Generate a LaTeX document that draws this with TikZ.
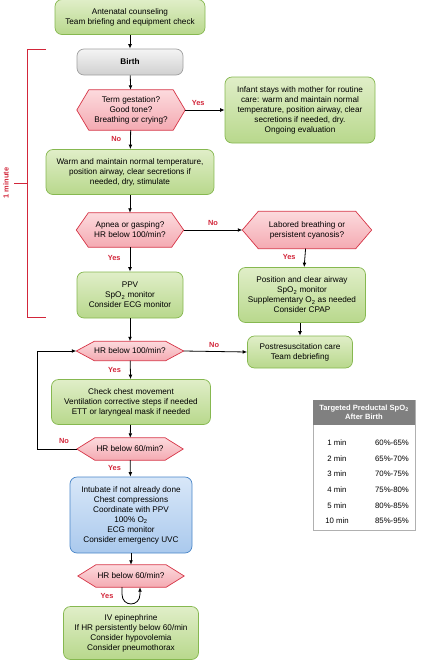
\documentclass[tikz,border=0pt]{standalone}
\usepackage{fontspec}
\setmainfont{Liberation Sans}
\usetikzlibrary{arrows.meta,backgrounds}
\definecolor{gtop}{RGB}{224,238,200}
\definecolor{gbot}{RGB}{184,216,140}
\definecolor{gborder}{RGB}{134,184,80}
\definecolor{ytop}{RGB}{244,244,244}
\definecolor{ybot}{RGB}{208,208,208}
\definecolor{yborder}{RGB}{160,160,160}
\definecolor{rtop}{RGB}{252,218,221}
\definecolor{rbot}{RGB}{244,170,178}
\definecolor{rborder}{RGB}{214,52,70}
\definecolor{btop}{RGB}{216,231,248}
\definecolor{bbot}{RGB}{170,201,237}
\definecolor{bborder}{RGB}{74,134,200}
\definecolor{labred}{RGB}{210,38,58}
\definecolor{tgray}{RGB}{128,128,128}
\definecolor{tborder}{RGB}{176,176,176}
\begin{document}
\begin{tikzpicture}[x=1pt,y=-1pt,
  base/.style={font=\fontsize{8.2}{10}\selectfont, align=center, inner sep=1pt},
  gbox/.style={base, rectangle, rounded corners=7pt, draw=gborder, line width=0.7pt, top color=gtop, bottom color=gbot},
  ybox/.style={base, rectangle, rounded corners=7pt, draw=yborder, line width=0.7pt, top color=ytop, bottom color=ybot},
  bbox/.style={base, rectangle, rounded corners=7pt, draw=bborder, line width=0.7pt, top color=btop, bottom color=bbot},
  hexnode/.style={base, rectangle, inner sep=0pt},
  hexpath/.style={draw=rborder, line width=0.7pt, top color=rtop, bottom color=rbot},
  arr/.style={-{Latex[length=4.5pt,width=3.8pt]}, line width=0.8pt},
  lab/.style={font=\fontsize{7.4}{8}\selectfont\bfseries, text=labred, inner sep=0pt},
  brk/.style={draw=labred, line width=0.8pt},
  tcell/.style={font=\fontsize{7.8}{9}\selectfont, inner sep=0pt},
]
\useasboundingbox (0,0) rectangle (427,662);

% nodes
\node[gbox, minimum width=150pt, minimum height=35pt] (ante) at (130,17) {Antenatal counseling\\Team briefing and equipment check};
\node[ybox, minimum width=106pt, minimum height=26pt, font=\fontsize{8.2}{10}\selectfont\bfseries] (birth) at (130,62) {Birth};
\node[hexnode, minimum width=108pt, minimum height=40pt] (d1) at (131,110) {Term gestation?\\Good tone?\\Breathing or crying?};
\node[gbox, minimum width=150pt, minimum height=66pt] (infant) at (300,110) {Infant stays with mother for routine\\care: warm and maintain normal\\temperature, position airway, clear\\secretions if needed, dry.\\Ongoing evaluation};
\node[gbox, minimum width=168pt, minimum height=45pt] (warm) at (130,172) {Warm and maintain normal temperature,\\position airway, clear secretions if\\needed, dry, stimulate};
\node[hexnode, minimum width=107pt, minimum height=34pt] (d2) at (130,230) {Apnea or gasping?\\HR below 100/min?};
\node[hexnode, minimum width=129pt, minimum height=37pt] (d3) at (307,230) {Labored breathing or\\persistent cyanosis?};
\node[gbox, minimum width=106pt, minimum height=46pt] (ppv) at (130,295) {PPV\\SpO\textsubscript{2} monitor\\Consider ECG monitor};
\node[gbox, minimum width=127pt, minimum height=55pt] (pos) at (302,295) {Position and clear airway\\SpO\textsubscript{2} monitor\\Supplementary O\textsubscript{2} as needed\\Consider CPAP};
\node[hexnode, minimum width=107pt, minimum height=19pt] (d4) at (130,351) {HR below 100/min?};
\node[gbox, minimum width=105pt, minimum height=32pt] (post) at (300,352) {Postresuscitation care\\Team debriefing};
\node[gbox, minimum width=159pt, minimum height=45pt] (check) at (131,402) {Check chest movement\\Ventilation corrective steps if needed\\ETT or laryngeal mask if needed};
\node[hexnode, minimum width=106pt, minimum height=22pt] (d5) at (130,449) {HR below 60/min?};
\node[bbox, minimum width=122pt, minimum height=76pt] (intub) at (131,515) {Intubate if not already done\\Chest compressions\\Coordinate with PPV\\100\% O\textsubscript{2}\\ECG monitor\\Consider emergency UVC};
\node[hexnode, minimum width=106pt, minimum height=22pt] (d6) at (131,576) {HR below 60/min?};
\node[gbox, minimum width=135pt, minimum height=53pt] (iv) at (131,633) {IV epinephrine\\If HR persistently below 60/min\\Consider hypovolemia\\Consider pneumothorax};

% hexagon outlines
\begin{scope}[on background layer]
\foreach \n/\s in {d1/12, d2/12, d3/16, d4/18, d5/18, d6/18}{
  \path[hexpath] (\n.west) -- ([xshift=\s pt]\n.north west) -- ([xshift=-\s pt]\n.north east) -- (\n.east) -- ([xshift=-\s pt]\n.south east) -- ([xshift=\s pt]\n.south west) -- cycle;
}
\end{scope}

% connectors
\draw[arr] (ante) -- (birth);
\draw[arr] (birth) -- (d1);
\draw[arr] (d1.east) -- (infant.west) node[lab, pos=0.33, above=4pt] {Yes};
\draw[arr] (d1) -- (warm) node[lab, pos=0.45, left=9pt] {No};
\draw[arr] (warm) -- (d2);
\draw[arr] (d2.east) -- (d3.west) node[lab, pos=0.5, above=4pt] {No};
\draw[arr] (d2) -- (ppv) node[lab, pos=0.45, left=9pt] {Yes};
\draw[arr] (d3) -- (pos) node[lab, pos=0.45, left=9pt] {Yes};
\draw[arr] (ppv) -- (d4);
\draw[arr] (pos.south -| post.north) -- (post.north);
\draw[arr] (d4.east) -- (post.west) node[lab, pos=0.48, above=4pt] {No};
\draw[arr] (d4) -- (check) node[lab, pos=0.5, left=9pt] {Yes};
\draw[arr] (check) -- (d5);
\coordinate (lp) at (37,449);
\draw[arr] (d5.west) -- (lp) |- (d4.west);
\node[lab] at (64,441) {No};
\draw[arr] (d5) -- (intub) node[lab, pos=0.5, left=9pt] {Yes};
\draw[arr] (intub) -- (d6);
\draw[arr] ([xshift=-9pt]d6.south) -- ++(0,7) .. controls +(0,13) and +(0,13) .. ([xshift=9pt,yshift=-7pt]d6.south) -- ([xshift=9pt]d6.south);
\node[lab] at (107,596) {Yes};

% bracket
\draw[brk] (46,49) -- (27,49) -- (27,317) -- (46,317);
\draw[brk] (14,183) -- (27,183);
\node[lab, rotate=90] at (6,183) {1 minute};

% table
\node[draw=tborder, line width=0.7pt, minimum width=102pt, minimum height=130pt, inner sep=0pt] (tbl) at (364,465) {};
\node[fill=tgray, minimum width=102pt, minimum height=25pt, text=white, align=center, inner sep=0pt, font=\fontsize{7.6}{9.5}\selectfont\bfseries, anchor=north] (th) at (tbl.north) {Targeted Preductal SpO\textsubscript{2}\\After Birth};
\foreach \t/\v/\y in {1 min/60\%-65\%/443, 2 min/65\%-70\%/458.6, 3 min/70\%-75\%/474.2, 4 min/75\%-80\%/489.8, 5 min/80\%-85\%/505.4, 10 min/85\%-95\%/521}{
  \node[tcell] at (337,\y) {\t};
  \node[tcell] at (392,\y) {\v};
}
\end{tikzpicture}
\end{document}
